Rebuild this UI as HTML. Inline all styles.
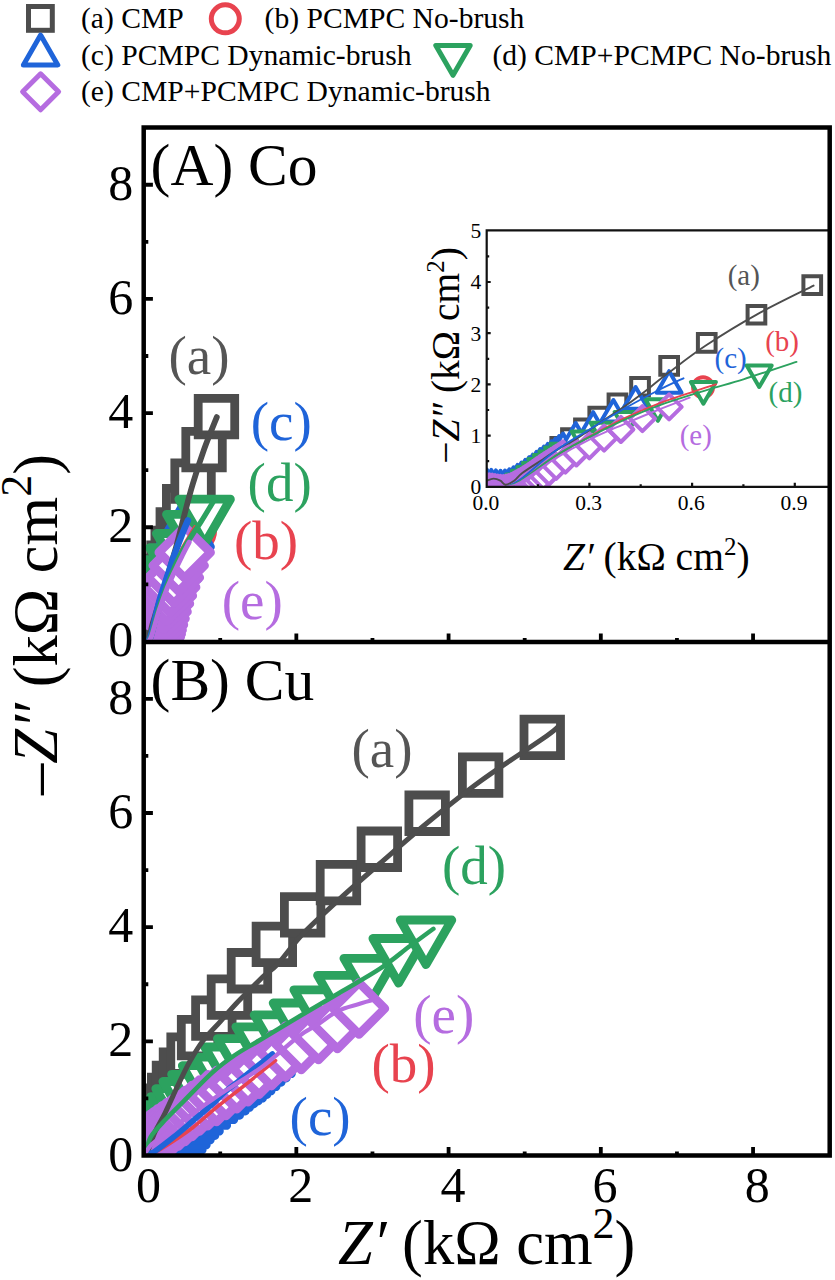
<!DOCTYPE html>
<html><head><meta charset="utf-8"><style>html,body{margin:0;padding:0;background:#fff;}svg{display:block;}</style></head>
<body><svg width="835" height="1280" viewBox="0 0 835 1280">
<rect width="835" height="1280" fill="#fff"/>
<rect x="28.5" y="6.5" width="23.8" height="23.8" fill="#fff" stroke="#4d4d4d" stroke-width="5"/>
<circle cx="225.3" cy="18.8" r="14.0" fill="#fff" stroke="#e8434f" stroke-width="5"/>
<polygon points="40.6,35.1 57.8,64.9 23.4,64.9" fill="#fff" stroke="#1f64d9" stroke-width="5" stroke-linejoin="round"/>
<polygon points="435.8,45.5 470.2,45.5 453.0,75.3" fill="#fff" stroke="#2ca25f" stroke-width="5" stroke-linejoin="round"/>
<polygon points="40.6,73.8 58.6,91.8 40.6,109.8 22.6,91.8" fill="#fff" stroke="#b56ce0" stroke-width="5" stroke-linejoin="round"/>
<text x="81" y="28.2" font-size="29.6" font-family="Liberation Serif, serif">(a) CMP</text>
<text x="264.6" y="28.2" font-size="29.6" font-family="Liberation Serif, serif">(b) PCMPC No-brush</text>
<text x="81" y="65.2" font-size="29.6" font-family="Liberation Serif, serif">(c) PCMPC Dynamic-brush</text>
<text x="492.4" y="65.2" font-size="29.6" font-family="Liberation Serif, serif">(d) CMP+PCMPC No-brush</text>
<text x="81" y="101.2" font-size="29.6" font-family="Liberation Serif, serif">(e) CMP+PCMPC Dynamic-brush</text>
<defs><clipPath id="cA"><rect x="143.7" y="127.5" width="686" height="514.5"/></clipPath><clipPath id="cB"><rect x="143.7" y="642" width="686" height="513.5"/></clipPath><clipPath id="cI"><rect x="486.7" y="230.3" width="343" height="256.5"/></clipPath></defs>
<g clip-path="url(#cA)">
<path d="M125.8,622.8h36.5v36.5h-36.5Z" fill="#fff" stroke="#4d4d4d" stroke-width="8.8" stroke-linejoin="miter"/>
<path d="M127.3,623.5h36.5v36.5h-36.5Z" fill="#fff" stroke="#4d4d4d" stroke-width="8.8" stroke-linejoin="miter"/>
<path d="M128.8,624.2h36.5v36.5h-36.5Z" fill="#fff" stroke="#4d4d4d" stroke-width="8.8" stroke-linejoin="miter"/>
<path d="M130.2,623.6h36.5v36.5h-36.5Z" fill="#fff" stroke="#4d4d4d" stroke-width="8.8" stroke-linejoin="miter"/>
<path d="M131.6,621.1h36.5v36.5h-36.5Z" fill="#fff" stroke="#4d4d4d" stroke-width="8.8" stroke-linejoin="miter"/>
<path d="M132.8,617.3h36.5v36.5h-36.5Z" fill="#fff" stroke="#4d4d4d" stroke-width="8.8" stroke-linejoin="miter"/>
<path d="M134.1,613.3h36.5v36.5h-36.5Z" fill="#fff" stroke="#4d4d4d" stroke-width="8.8" stroke-linejoin="miter"/>
<path d="M135.3,609.1h36.5v36.5h-36.5Z" fill="#fff" stroke="#4d4d4d" stroke-width="8.8" stroke-linejoin="miter"/>
<path d="M136.5,604.8h36.5v36.5h-36.5Z" fill="#fff" stroke="#4d4d4d" stroke-width="8.8" stroke-linejoin="miter"/>
<path d="M137.7,600.4h36.5v36.5h-36.5Z" fill="#fff" stroke="#4d4d4d" stroke-width="8.8" stroke-linejoin="miter"/>
<path d="M138.9,596.2h36.5v36.5h-36.5Z" fill="#fff" stroke="#4d4d4d" stroke-width="8.8" stroke-linejoin="miter"/>
<path d="M140.1,592.1h36.5v36.5h-36.5Z" fill="#fff" stroke="#4d4d4d" stroke-width="8.8" stroke-linejoin="miter"/>
<path d="M142.2,578.6h36.5v36.5h-36.5Z" fill="#fff" stroke="#4d4d4d" stroke-width="8.8" stroke-linejoin="miter"/>
<path d="M144.6,568.9h36.5v36.5h-36.5Z" fill="#fff" stroke="#4d4d4d" stroke-width="8.8" stroke-linejoin="miter"/>
<path d="M147.5,558.1h36.5v36.5h-36.5Z" fill="#fff" stroke="#4d4d4d" stroke-width="8.8" stroke-linejoin="miter"/>
<path d="M150.7,545.0h36.5v36.5h-36.5Z" fill="#fff" stroke="#4d4d4d" stroke-width="8.8" stroke-linejoin="miter"/>
<path d="M154.9,530.1h36.5v36.5h-36.5Z" fill="#fff" stroke="#4d4d4d" stroke-width="8.8" stroke-linejoin="miter"/>
<path d="M160.0,511.6h36.5v36.5h-36.5Z" fill="#fff" stroke="#4d4d4d" stroke-width="8.8" stroke-linejoin="miter"/>
<path d="M166.4,488.4h36.5v36.5h-36.5Z" fill="#fff" stroke="#4d4d4d" stroke-width="8.8" stroke-linejoin="miter"/>
<path d="M174.8,462.8h36.5v36.5h-36.5Z" fill="#fff" stroke="#4d4d4d" stroke-width="8.8" stroke-linejoin="miter"/>
<path d="M185.8,431.4h36.5v36.5h-36.5Z" fill="#fff" stroke="#4d4d4d" stroke-width="8.8" stroke-linejoin="miter"/>
<path d="M198.2,398.3h36.5v36.5h-36.5Z" fill="#fff" stroke="#4d4d4d" stroke-width="8.8" stroke-linejoin="miter"/>
<path d="M123.6,645.6a20.5,20.5 0 1,0 41.0,0a20.5,20.5 0 1,0 -41.0,0Z" fill="#fff" stroke="#e8434f" stroke-width="8.8" stroke-linejoin="round"/>
<path d="M125.4,646.5a20.5,20.5 0 1,0 41.0,0a20.5,20.5 0 1,0 -41.0,0Z" fill="#fff" stroke="#e8434f" stroke-width="8.8" stroke-linejoin="round"/>
<path d="M127.1,647.2a20.5,20.5 0 1,0 41.0,0a20.5,20.5 0 1,0 -41.0,0Z" fill="#fff" stroke="#e8434f" stroke-width="8.8" stroke-linejoin="round"/>
<path d="M128.8,645.1a20.5,20.5 0 1,0 41.0,0a20.5,20.5 0 1,0 -41.0,0Z" fill="#fff" stroke="#e8434f" stroke-width="8.8" stroke-linejoin="round"/>
<path d="M130.4,640.7a20.5,20.5 0 1,0 41.0,0a20.5,20.5 0 1,0 -41.0,0Z" fill="#fff" stroke="#e8434f" stroke-width="8.8" stroke-linejoin="round"/>
<path d="M131.9,636.0a20.5,20.5 0 1,0 41.0,0a20.5,20.5 0 1,0 -41.0,0Z" fill="#fff" stroke="#e8434f" stroke-width="8.8" stroke-linejoin="round"/>
<path d="M133.3,630.9a20.5,20.5 0 1,0 41.0,0a20.5,20.5 0 1,0 -41.0,0Z" fill="#fff" stroke="#e8434f" stroke-width="8.8" stroke-linejoin="round"/>
<path d="M134.8,625.7a20.5,20.5 0 1,0 41.0,0a20.5,20.5 0 1,0 -41.0,0Z" fill="#fff" stroke="#e8434f" stroke-width="8.8" stroke-linejoin="round"/>
<path d="M136.2,620.4a20.5,20.5 0 1,0 41.0,0a20.5,20.5 0 1,0 -41.0,0Z" fill="#fff" stroke="#e8434f" stroke-width="8.8" stroke-linejoin="round"/>
<path d="M137.7,615.5a20.5,20.5 0 1,0 41.0,0a20.5,20.5 0 1,0 -41.0,0Z" fill="#fff" stroke="#e8434f" stroke-width="8.8" stroke-linejoin="round"/>
<path d="M139.1,610.5a20.5,20.5 0 1,0 41.0,0a20.5,20.5 0 1,0 -41.0,0Z" fill="#fff" stroke="#e8434f" stroke-width="8.8" stroke-linejoin="round"/>
<path d="M140.6,605.4a20.5,20.5 0 1,0 41.0,0a20.5,20.5 0 1,0 -41.0,0Z" fill="#fff" stroke="#e8434f" stroke-width="8.8" stroke-linejoin="round"/>
<path d="M171.7,530.5a20.5,20.5 0 1,0 41.0,0a20.5,20.5 0 1,0 -41.0,0Z" fill="#fff" stroke="#e8434f" stroke-width="8.8" stroke-linejoin="round"/>
<path d="M136.5,611.9L162.2,656.5L110.7,656.5Z" fill="#fff" stroke="#1f64d9" stroke-width="8.8" stroke-linejoin="round"/>
<path d="M137.5,612.4L163.3,657.0L111.8,657.0Z" fill="#fff" stroke="#1f64d9" stroke-width="8.8" stroke-linejoin="round"/>
<path d="M138.5,612.9L164.3,657.5L112.8,657.5Z" fill="#fff" stroke="#1f64d9" stroke-width="8.8" stroke-linejoin="round"/>
<path d="M139.6,613.3L165.3,657.9L113.8,657.9Z" fill="#fff" stroke="#1f64d9" stroke-width="8.8" stroke-linejoin="round"/>
<path d="M140.6,613.1L166.3,657.7L114.8,657.7Z" fill="#fff" stroke="#1f64d9" stroke-width="8.8" stroke-linejoin="round"/>
<path d="M141.5,611.7L167.3,656.3L115.8,656.3Z" fill="#fff" stroke="#1f64d9" stroke-width="8.8" stroke-linejoin="round"/>
<path d="M142.5,609.4L168.2,654.0L116.7,654.0Z" fill="#fff" stroke="#1f64d9" stroke-width="8.8" stroke-linejoin="round"/>
<path d="M143.3,606.8L169.1,651.4L117.6,651.4Z" fill="#fff" stroke="#1f64d9" stroke-width="8.8" stroke-linejoin="round"/>
<path d="M144.2,604.1L170.0,648.7L118.5,648.7Z" fill="#fff" stroke="#1f64d9" stroke-width="8.8" stroke-linejoin="round"/>
<path d="M145.1,601.2L170.8,645.8L119.3,645.8Z" fill="#fff" stroke="#1f64d9" stroke-width="8.8" stroke-linejoin="round"/>
<path d="M145.9,598.3L171.7,642.9L120.2,642.9Z" fill="#fff" stroke="#1f64d9" stroke-width="8.8" stroke-linejoin="round"/>
<path d="M146.7,595.4L172.5,640.0L121.0,640.0Z" fill="#fff" stroke="#1f64d9" stroke-width="8.8" stroke-linejoin="round"/>
<path d="M147.6,592.2L173.3,636.8L121.8,636.8Z" fill="#fff" stroke="#1f64d9" stroke-width="8.8" stroke-linejoin="round"/>
<path d="M148.4,589.1L174.1,633.7L122.6,633.7Z" fill="#fff" stroke="#1f64d9" stroke-width="8.8" stroke-linejoin="round"/>
<path d="M149.2,586.2L175.0,630.8L123.5,630.8Z" fill="#fff" stroke="#1f64d9" stroke-width="8.8" stroke-linejoin="round"/>
<path d="M150.1,583.4L175.8,628.0L124.3,628.0Z" fill="#fff" stroke="#1f64d9" stroke-width="8.8" stroke-linejoin="round"/>
<path d="M150.9,580.5L176.7,625.1L125.2,625.1Z" fill="#fff" stroke="#1f64d9" stroke-width="8.8" stroke-linejoin="round"/>
<path d="M151.8,577.6L177.5,622.2L126.0,622.2Z" fill="#fff" stroke="#1f64d9" stroke-width="8.8" stroke-linejoin="round"/>
<path d="M152.6,574.6L178.4,619.2L126.9,619.2Z" fill="#fff" stroke="#1f64d9" stroke-width="8.8" stroke-linejoin="round"/>
<path d="M153.5,571.7L179.2,616.3L127.7,616.3Z" fill="#fff" stroke="#1f64d9" stroke-width="8.8" stroke-linejoin="round"/>
<path d="M159.3,560.0L185.1,604.6L133.6,604.6Z" fill="#fff" stroke="#1f64d9" stroke-width="8.8" stroke-linejoin="round"/>
<path d="M163.2,548.0L189.0,592.6L137.5,592.6Z" fill="#fff" stroke="#1f64d9" stroke-width="8.8" stroke-linejoin="round"/>
<path d="M172.3,534.3L198.0,578.9L146.5,578.9Z" fill="#fff" stroke="#1f64d9" stroke-width="8.8" stroke-linejoin="round"/>
<path d="M177.2,520.0L203.0,564.6L151.5,564.6Z" fill="#fff" stroke="#1f64d9" stroke-width="8.8" stroke-linejoin="round"/>
<path d="M184.7,502.3L210.4,546.9L158.9,546.9Z" fill="#fff" stroke="#1f64d9" stroke-width="8.8" stroke-linejoin="round"/>
<path d="M118.3,623.3L169.8,623.3L144.1,667.9Z" fill="#fff" stroke="#2ca25f" stroke-width="8.8" stroke-linejoin="round"/>
<path d="M119.8,624.0L171.3,624.0L145.6,668.6Z" fill="#fff" stroke="#2ca25f" stroke-width="8.8" stroke-linejoin="round"/>
<path d="M121.3,624.7L172.8,624.7L147.1,669.3Z" fill="#fff" stroke="#2ca25f" stroke-width="8.8" stroke-linejoin="round"/>
<path d="M122.8,624.0L174.3,624.0L148.6,668.6Z" fill="#fff" stroke="#2ca25f" stroke-width="8.8" stroke-linejoin="round"/>
<path d="M124.2,621.3L175.7,621.3L149.9,665.9Z" fill="#fff" stroke="#2ca25f" stroke-width="8.8" stroke-linejoin="round"/>
<path d="M125.5,617.4L177.0,617.4L151.2,662.0Z" fill="#fff" stroke="#2ca25f" stroke-width="8.8" stroke-linejoin="round"/>
<path d="M126.7,613.3L178.2,613.3L152.5,657.9Z" fill="#fff" stroke="#2ca25f" stroke-width="8.8" stroke-linejoin="round"/>
<path d="M128.0,609.0L179.5,609.0L153.7,653.6Z" fill="#fff" stroke="#2ca25f" stroke-width="8.8" stroke-linejoin="round"/>
<path d="M129.2,604.6L180.7,604.6L154.9,649.2Z" fill="#fff" stroke="#2ca25f" stroke-width="8.8" stroke-linejoin="round"/>
<path d="M130.4,600.1L181.9,600.1L156.1,644.7Z" fill="#fff" stroke="#2ca25f" stroke-width="8.8" stroke-linejoin="round"/>
<path d="M131.6,595.9L183.1,595.9L157.4,640.5Z" fill="#fff" stroke="#2ca25f" stroke-width="8.8" stroke-linejoin="round"/>
<path d="M132.9,591.7L184.4,591.7L158.6,636.3Z" fill="#fff" stroke="#2ca25f" stroke-width="8.8" stroke-linejoin="round"/>
<path d="M134.1,587.4L185.6,587.4L159.8,632.0Z" fill="#fff" stroke="#2ca25f" stroke-width="8.8" stroke-linejoin="round"/>
<path d="M135.3,583.1L186.8,583.1L161.1,627.7Z" fill="#fff" stroke="#2ca25f" stroke-width="8.8" stroke-linejoin="round"/>
<path d="M140.0,569.4L191.5,569.4L165.8,614.0Z" fill="#fff" stroke="#2ca25f" stroke-width="8.8" stroke-linejoin="round"/>
<path d="M144.2,559.7L195.7,559.7L170.0,604.3Z" fill="#fff" stroke="#2ca25f" stroke-width="8.8" stroke-linejoin="round"/>
<path d="M149.6,547.7L201.1,547.7L175.3,592.4Z" fill="#fff" stroke="#2ca25f" stroke-width="8.8" stroke-linejoin="round"/>
<path d="M156.4,533.5L207.9,533.5L182.2,578.1Z" fill="#fff" stroke="#2ca25f" stroke-width="8.8" stroke-linejoin="round"/>
<path d="M166.5,514.4L218.0,514.4L192.3,559.0Z" fill="#fff" stroke="#2ca25f" stroke-width="8.8" stroke-linejoin="round"/>
<path d="M178.9,499.2L230.4,499.2L204.7,543.8Z" fill="#fff" stroke="#2ca25f" stroke-width="8.8" stroke-linejoin="round"/>
<path d="M144.1,615.2L169.9,641.0L144.1,666.8L118.3,641.0Z" fill="#fff" stroke="#b56ce0" stroke-width="8.8" stroke-linejoin="round"/>
<path d="M144.7,615.7L170.5,641.5L144.7,667.3L118.9,641.5Z" fill="#fff" stroke="#b56ce0" stroke-width="8.8" stroke-linejoin="round"/>
<path d="M145.3,616.1L171.1,641.9L145.3,667.7L119.5,641.9Z" fill="#fff" stroke="#b56ce0" stroke-width="8.8" stroke-linejoin="round"/>
<path d="M145.9,616.6L171.7,642.4L145.9,668.2L120.1,642.4Z" fill="#fff" stroke="#b56ce0" stroke-width="8.8" stroke-linejoin="round"/>
<path d="M146.6,617.0L172.4,642.8L146.6,668.6L120.8,642.8Z" fill="#fff" stroke="#b56ce0" stroke-width="8.8" stroke-linejoin="round"/>
<path d="M147.2,617.4L173.0,643.2L147.2,669.0L121.4,643.2Z" fill="#fff" stroke="#b56ce0" stroke-width="8.8" stroke-linejoin="round"/>
<path d="M147.8,617.8L173.6,643.6L147.8,669.4L122.0,643.6Z" fill="#fff" stroke="#b56ce0" stroke-width="8.8" stroke-linejoin="round"/>
<path d="M148.4,617.1L174.2,642.9L148.4,668.7L122.6,642.9Z" fill="#fff" stroke="#b56ce0" stroke-width="8.8" stroke-linejoin="round"/>
<path d="M149.0,616.4L174.8,642.2L149.0,668.0L123.2,642.2Z" fill="#fff" stroke="#b56ce0" stroke-width="8.8" stroke-linejoin="round"/>
<path d="M149.6,615.5L175.4,641.3L149.6,667.1L123.8,641.3Z" fill="#fff" stroke="#b56ce0" stroke-width="8.8" stroke-linejoin="round"/>
<path d="M150.1,614.0L175.9,639.8L150.1,665.6L124.3,639.8Z" fill="#fff" stroke="#b56ce0" stroke-width="8.8" stroke-linejoin="round"/>
<path d="M150.7,612.5L176.5,638.3L150.7,664.1L124.9,638.3Z" fill="#fff" stroke="#b56ce0" stroke-width="8.8" stroke-linejoin="round"/>
<path d="M151.2,611.0L177.0,636.8L151.2,662.6L125.4,636.8Z" fill="#fff" stroke="#b56ce0" stroke-width="8.8" stroke-linejoin="round"/>
<path d="M151.7,609.5L177.5,635.3L151.7,661.1L125.9,635.3Z" fill="#fff" stroke="#b56ce0" stroke-width="8.8" stroke-linejoin="round"/>
<path d="M152.3,607.8L178.1,633.6L152.3,659.4L126.5,633.6Z" fill="#fff" stroke="#b56ce0" stroke-width="8.8" stroke-linejoin="round"/>
<path d="M152.8,606.1L178.6,631.9L152.8,657.7L127.0,631.9Z" fill="#fff" stroke="#b56ce0" stroke-width="8.8" stroke-linejoin="round"/>
<path d="M153.3,604.4L179.1,630.2L153.3,656.0L127.5,630.2Z" fill="#fff" stroke="#b56ce0" stroke-width="8.8" stroke-linejoin="round"/>
<path d="M153.8,602.8L179.6,628.6L153.8,654.4L128.0,628.6Z" fill="#fff" stroke="#b56ce0" stroke-width="8.8" stroke-linejoin="round"/>
<path d="M154.3,601.1L180.1,626.9L154.3,652.7L128.5,626.9Z" fill="#fff" stroke="#b56ce0" stroke-width="8.8" stroke-linejoin="round"/>
<path d="M154.9,599.3L180.7,625.1L154.9,650.9L129.1,625.1Z" fill="#fff" stroke="#b56ce0" stroke-width="8.8" stroke-linejoin="round"/>
<path d="M155.4,597.4L181.2,623.2L155.4,649.0L129.6,623.2Z" fill="#fff" stroke="#b56ce0" stroke-width="8.8" stroke-linejoin="round"/>
<path d="M155.9,595.6L181.7,621.4L155.9,647.2L130.1,621.4Z" fill="#fff" stroke="#b56ce0" stroke-width="8.8" stroke-linejoin="round"/>
<path d="M156.4,593.9L182.2,619.7L156.4,645.5L130.6,619.7Z" fill="#fff" stroke="#b56ce0" stroke-width="8.8" stroke-linejoin="round"/>
<path d="M156.9,592.2L182.7,618.0L156.9,643.8L131.1,618.0Z" fill="#fff" stroke="#b56ce0" stroke-width="8.8" stroke-linejoin="round"/>
<path d="M157.4,590.6L183.2,616.4L157.4,642.2L131.6,616.4Z" fill="#fff" stroke="#b56ce0" stroke-width="8.8" stroke-linejoin="round"/>
<path d="M157.9,589.0L183.7,614.8L157.9,640.6L132.1,614.8Z" fill="#fff" stroke="#b56ce0" stroke-width="8.8" stroke-linejoin="round"/>
<path d="M158.5,587.3L184.3,613.1L158.5,638.9L132.7,613.1Z" fill="#fff" stroke="#b56ce0" stroke-width="8.8" stroke-linejoin="round"/>
<path d="M159.0,585.6L184.8,611.4L159.0,637.2L133.2,611.4Z" fill="#fff" stroke="#b56ce0" stroke-width="8.8" stroke-linejoin="round"/>
<path d="M159.5,583.9L185.3,609.7L159.5,635.5L133.7,609.7Z" fill="#fff" stroke="#b56ce0" stroke-width="8.8" stroke-linejoin="round"/>
<path d="M160.0,582.3L185.8,608.1L160.0,633.9L134.2,608.1Z" fill="#fff" stroke="#b56ce0" stroke-width="8.8" stroke-linejoin="round"/>
<path d="M160.6,580.6L186.4,606.4L160.6,632.2L134.8,606.4Z" fill="#fff" stroke="#b56ce0" stroke-width="8.8" stroke-linejoin="round"/>
<path d="M161.1,578.9L186.9,604.7L161.1,630.5L135.3,604.7Z" fill="#fff" stroke="#b56ce0" stroke-width="8.8" stroke-linejoin="round"/>
<path d="M154.9,611.0L180.7,636.8L154.9,662.6L129.1,636.8Z" fill="#fff" stroke="#b56ce0" stroke-width="8.8" stroke-linejoin="round"/>
<path d="M155.8,608.2L181.6,634.0L155.8,659.8L130.0,634.0Z" fill="#fff" stroke="#b56ce0" stroke-width="8.8" stroke-linejoin="round"/>
<path d="M156.7,604.2L182.5,630.0L156.7,655.8L130.9,630.0Z" fill="#fff" stroke="#b56ce0" stroke-width="8.8" stroke-linejoin="round"/>
<path d="M158.0,599.0L183.8,624.8L158.0,650.6L132.2,624.8Z" fill="#fff" stroke="#b56ce0" stroke-width="8.8" stroke-linejoin="round"/>
<path d="M159.6,592.8L185.4,618.6L159.6,644.4L133.8,618.6Z" fill="#fff" stroke="#b56ce0" stroke-width="8.8" stroke-linejoin="round"/>
<path d="M161.6,585.9L187.4,611.7L161.6,637.5L135.8,611.7Z" fill="#fff" stroke="#b56ce0" stroke-width="8.8" stroke-linejoin="round"/>
<path d="M164.0,577.9L189.8,603.7L164.0,629.5L138.2,603.7Z" fill="#fff" stroke="#b56ce0" stroke-width="8.8" stroke-linejoin="round"/>
<path d="M166.9,569.9L192.7,595.7L166.9,621.5L141.1,595.7Z" fill="#fff" stroke="#b56ce0" stroke-width="8.8" stroke-linejoin="round"/>
<path d="M170.2,561.4L196.0,587.2L170.2,613.0L144.4,587.2Z" fill="#fff" stroke="#b56ce0" stroke-width="8.8" stroke-linejoin="round"/>
<path d="M173.9,551.7L199.7,577.5L173.9,603.3L148.1,577.5Z" fill="#fff" stroke="#b56ce0" stroke-width="8.8" stroke-linejoin="round"/>
<path d="M178.7,539.7L204.5,565.5L178.7,591.3L152.9,565.5Z" fill="#fff" stroke="#b56ce0" stroke-width="8.8" stroke-linejoin="round"/>
<path d="M184.7,526.6L210.5,552.4L184.7,578.2L158.9,552.4Z" fill="#fff" stroke="#b56ce0" stroke-width="8.8" stroke-linejoin="round"/>
<path d="M144.1,634.6 C144.4,634.2 145.1,632.3 145.6,632.3 C146.1,632.3 146.7,633.4 147.1,634.6 C147.6,635.7 147.8,639.1 148.3,639.1 C148.8,639.1 149.6,636.7 150.2,634.6 C150.8,632.4 151.0,629.8 152.0,626.0 C153.0,622.2 154.9,616.4 156.3,611.7 C157.7,607.1 159.2,601.9 160.5,598.0 C161.7,594.1 162.6,592.5 163.9,588.3 C165.2,584.1 166.9,578.0 168.5,572.9 C170.0,567.8 171.8,561.7 173.0,557.5 C174.3,553.3 174.9,551.4 175.9,547.8 C176.9,544.2 177.7,541.3 179.1,535.8 C180.5,530.3 182.2,523.3 184.4,514.7 C186.7,506.0 189.5,494.8 192.8,483.9 C196.1,472.9 200.2,460.2 204.2,449.0 C208.2,437.9 214.7,422.4 216.8,417.1" fill="none" stroke="#4d4d4d" stroke-width="5.8" stroke-linecap="round" stroke-linejoin="round"/>
<path d="M148.7,641.4 C149.2,640.3 149.9,640.3 151.7,634.6 C153.5,628.8 156.8,615.3 159.3,607.2 C161.9,599.0 164.4,592.4 166.9,585.5 C169.5,578.5 172.0,571.6 174.5,565.5 C177.1,559.4 179.6,553.9 182.2,548.9 C184.7,544.0 187.6,539.4 189.8,535.8 C191.9,532.2 194.2,528.7 195.1,527.2" fill="none" stroke="#e8434f" stroke-width="4.06" stroke-linecap="round" stroke-linejoin="round"/>
<path d="M148.7,641.4 C149.2,640.0 149.9,639.5 151.7,632.8 C153.5,626.2 156.8,610.7 159.3,601.4 C161.9,592.2 164.4,585.3 166.9,577.5 C169.5,569.7 172.0,561.9 174.5,554.6 C177.1,547.4 179.9,539.8 182.2,534.1 C184.4,528.4 186.9,522.7 187.9,520.4" fill="none" stroke="#1f64d9" stroke-width="6.496" stroke-linecap="round" stroke-linejoin="round"/>
<path d="M148.7,641.4 C149.2,640.3 149.9,640.3 151.7,634.6 C153.5,628.8 156.8,615.2 159.3,607.2 C161.9,599.1 164.4,592.7 166.9,586.0 C169.5,579.4 172.0,573.0 174.5,567.2 C177.1,561.4 179.2,556.6 182.2,551.2 C185.1,545.8 189.1,539.6 192.3,534.7 C195.5,529.7 197.7,527.0 201.2,521.5 C204.6,516.1 211.0,505.4 213.0,502.1" fill="none" stroke="#2ca25f" stroke-width="5.22" stroke-linecap="round" stroke-linejoin="round"/>
<path d="M148.7,641.4 C149.2,640.4 149.9,640.9 151.7,635.7 C153.5,630.5 156.8,617.8 159.3,610.0 C161.9,602.2 164.4,595.3 166.9,588.9 C169.5,582.5 172.0,577.3 174.5,571.8 C177.1,566.2 179.7,560.7 182.2,555.8 C184.6,550.8 188.1,544.4 189.2,542.1" fill="none" stroke="#b56ce0" stroke-width="4.93" stroke-linecap="round" stroke-linejoin="round"/>
</g>
<g clip-path="url(#cB)">
<path d="M134.8,1122.8h36.5v36.5h-36.5Z" fill="#fff" stroke="#4d4d4d" stroke-width="8.8" stroke-linejoin="miter"/>
<path d="M136.2,1117.8h36.5v36.5h-36.5Z" fill="#fff" stroke="#4d4d4d" stroke-width="8.8" stroke-linejoin="miter"/>
<path d="M138.2,1111.8h36.5v36.5h-36.5Z" fill="#fff" stroke="#4d4d4d" stroke-width="8.8" stroke-linejoin="miter"/>
<path d="M140.8,1104.8h36.5v36.5h-36.5Z" fill="#fff" stroke="#4d4d4d" stroke-width="8.8" stroke-linejoin="miter"/>
<path d="M143.8,1096.8h36.5v36.5h-36.5Z" fill="#fff" stroke="#4d4d4d" stroke-width="8.8" stroke-linejoin="miter"/>
<path d="M147.2,1087.8h36.5v36.5h-36.5Z" fill="#fff" stroke="#4d4d4d" stroke-width="8.8" stroke-linejoin="miter"/>
<path d="M151.4,1077.2h36.5v36.5h-36.5Z" fill="#fff" stroke="#4d4d4d" stroke-width="8.8" stroke-linejoin="miter"/>
<path d="M156.2,1065.2h36.5v36.5h-36.5Z" fill="#fff" stroke="#4d4d4d" stroke-width="8.8" stroke-linejoin="miter"/>
<path d="M163.2,1051.8h36.5v36.5h-36.5Z" fill="#fff" stroke="#4d4d4d" stroke-width="8.8" stroke-linejoin="miter"/>
<path d="M170.8,1036.8h36.5v36.5h-36.5Z" fill="#fff" stroke="#4d4d4d" stroke-width="8.8" stroke-linejoin="miter"/>
<path d="M181.3,1019.3h36.5v36.5h-36.5Z" fill="#fff" stroke="#4d4d4d" stroke-width="8.8" stroke-linejoin="miter"/>
<path d="M195.6,999.8h36.5v36.5h-36.5Z" fill="#fff" stroke="#4d4d4d" stroke-width="8.8" stroke-linejoin="miter"/>
<path d="M211.2,978.8h36.5v36.5h-36.5Z" fill="#fff" stroke="#4d4d4d" stroke-width="8.8" stroke-linejoin="miter"/>
<path d="M231.2,952.5h36.5v36.5h-36.5Z" fill="#fff" stroke="#4d4d4d" stroke-width="8.8" stroke-linejoin="miter"/>
<path d="M256.1,926.2h36.5v36.5h-36.5Z" fill="#fff" stroke="#4d4d4d" stroke-width="8.8" stroke-linejoin="miter"/>
<path d="M284.4,896.6h36.5v36.5h-36.5Z" fill="#fff" stroke="#4d4d4d" stroke-width="8.8" stroke-linejoin="miter"/>
<path d="M320.2,864.4h36.5v36.5h-36.5Z" fill="#fff" stroke="#4d4d4d" stroke-width="8.8" stroke-linejoin="miter"/>
<path d="M361.1,831.0h36.5v36.5h-36.5Z" fill="#fff" stroke="#4d4d4d" stroke-width="8.8" stroke-linejoin="miter"/>
<path d="M408.9,795.0h36.5v36.5h-36.5Z" fill="#fff" stroke="#4d4d4d" stroke-width="8.8" stroke-linejoin="miter"/>
<path d="M462.4,756.9h36.5v36.5h-36.5Z" fill="#fff" stroke="#4d4d4d" stroke-width="8.8" stroke-linejoin="miter"/>
<path d="M524.0,719.1h36.5v36.5h-36.5Z" fill="#fff" stroke="#4d4d4d" stroke-width="8.8" stroke-linejoin="miter"/>
<path d="M127.5,1152.0a20.5,20.5 0 1,0 41.0,0a20.5,20.5 0 1,0 -41.0,0Z" fill="#fff" stroke="#e8434f" stroke-width="8.8" stroke-linejoin="round"/>
<path d="M131.5,1149.0a20.5,20.5 0 1,0 41.0,0a20.5,20.5 0 1,0 -41.0,0Z" fill="#fff" stroke="#e8434f" stroke-width="8.8" stroke-linejoin="round"/>
<path d="M137.5,1145.0a20.5,20.5 0 1,0 41.0,0a20.5,20.5 0 1,0 -41.0,0Z" fill="#fff" stroke="#e8434f" stroke-width="8.8" stroke-linejoin="round"/>
<path d="M144.5,1140.0a20.5,20.5 0 1,0 41.0,0a20.5,20.5 0 1,0 -41.0,0Z" fill="#fff" stroke="#e8434f" stroke-width="8.8" stroke-linejoin="round"/>
<path d="M149.6,1128.3L175.3,1172.9L123.8,1172.9Z" fill="#fff" stroke="#1f64d9" stroke-width="8.8" stroke-linejoin="round"/>
<path d="M152.1,1126.3L177.8,1170.9L126.3,1170.9Z" fill="#fff" stroke="#1f64d9" stroke-width="8.8" stroke-linejoin="round"/>
<path d="M154.6,1124.3L180.3,1168.9L128.8,1168.9Z" fill="#fff" stroke="#1f64d9" stroke-width="8.8" stroke-linejoin="round"/>
<path d="M157.6,1121.8L183.3,1166.4L131.8,1166.4Z" fill="#fff" stroke="#1f64d9" stroke-width="8.8" stroke-linejoin="round"/>
<path d="M160.6,1119.3L186.3,1163.9L134.8,1163.9Z" fill="#fff" stroke="#1f64d9" stroke-width="8.8" stroke-linejoin="round"/>
<path d="M164.1,1116.3L189.8,1160.9L138.3,1160.9Z" fill="#fff" stroke="#1f64d9" stroke-width="8.8" stroke-linejoin="round"/>
<path d="M167.6,1113.3L193.3,1157.9L141.8,1157.9Z" fill="#fff" stroke="#1f64d9" stroke-width="8.8" stroke-linejoin="round"/>
<path d="M172.0,1109.3L197.8,1153.9L146.3,1153.9Z" fill="#fff" stroke="#1f64d9" stroke-width="8.8" stroke-linejoin="round"/>
<path d="M176.5,1105.3L202.2,1149.9L150.8,1149.9Z" fill="#fff" stroke="#1f64d9" stroke-width="8.8" stroke-linejoin="round"/>
<path d="M180.6,1100.3L206.3,1144.9L154.8,1144.9Z" fill="#fff" stroke="#1f64d9" stroke-width="8.8" stroke-linejoin="round"/>
<path d="M184.6,1095.3L210.3,1139.9L158.8,1139.9Z" fill="#fff" stroke="#1f64d9" stroke-width="8.8" stroke-linejoin="round"/>
<path d="M189.2,1090.9L214.9,1135.5L163.4,1135.5Z" fill="#fff" stroke="#1f64d9" stroke-width="8.8" stroke-linejoin="round"/>
<path d="M193.7,1086.5L219.4,1131.1L167.9,1131.1Z" fill="#fff" stroke="#1f64d9" stroke-width="8.8" stroke-linejoin="round"/>
<path d="M200.9,1080.7L226.7,1125.4L175.2,1125.4Z" fill="#fff" stroke="#1f64d9" stroke-width="8.8" stroke-linejoin="round"/>
<path d="M208.1,1075.0L233.8,1119.6L182.3,1119.6Z" fill="#fff" stroke="#1f64d9" stroke-width="8.8" stroke-linejoin="round"/>
<path d="M213.8,1070.7L239.6,1115.3L188.1,1115.3Z" fill="#fff" stroke="#1f64d9" stroke-width="8.8" stroke-linejoin="round"/>
<path d="M219.6,1066.4L245.3,1111.0L193.8,1111.0Z" fill="#fff" stroke="#1f64d9" stroke-width="8.8" stroke-linejoin="round"/>
<path d="M223.9,1062.8L249.6,1107.4L198.1,1107.4Z" fill="#fff" stroke="#1f64d9" stroke-width="8.8" stroke-linejoin="round"/>
<path d="M228.2,1059.2L253.9,1103.8L202.4,1103.8Z" fill="#fff" stroke="#1f64d9" stroke-width="8.8" stroke-linejoin="round"/>
<path d="M232.5,1056.3L258.2,1101.0L206.8,1101.0Z" fill="#fff" stroke="#1f64d9" stroke-width="8.8" stroke-linejoin="round"/>
<path d="M236.8,1053.5L262.6,1098.1L211.1,1098.1Z" fill="#fff" stroke="#1f64d9" stroke-width="8.8" stroke-linejoin="round"/>
<path d="M241.1,1049.9L266.9,1094.5L215.4,1094.5Z" fill="#fff" stroke="#1f64d9" stroke-width="8.8" stroke-linejoin="round"/>
<path d="M245.4,1046.3L271.1,1090.9L219.7,1090.9Z" fill="#fff" stroke="#1f64d9" stroke-width="8.8" stroke-linejoin="round"/>
<path d="M250.4,1042.0L276.1,1086.6L224.7,1086.6Z" fill="#fff" stroke="#1f64d9" stroke-width="8.8" stroke-linejoin="round"/>
<path d="M255.4,1037.7L281.1,1082.3L229.7,1082.3Z" fill="#fff" stroke="#1f64d9" stroke-width="8.8" stroke-linejoin="round"/>
<path d="M260.5,1033.3L286.2,1078.0L234.8,1078.0Z" fill="#fff" stroke="#1f64d9" stroke-width="8.8" stroke-linejoin="round"/>
<path d="M265.6,1029.0L291.4,1073.6L239.9,1073.6Z" fill="#fff" stroke="#1f64d9" stroke-width="8.8" stroke-linejoin="round"/>
<path d="M131.2,1124.7L182.8,1124.7L157.0,1169.3Z" fill="#fff" stroke="#2ca25f" stroke-width="8.8" stroke-linejoin="round"/>
<path d="M133.2,1121.2L184.8,1121.2L159.0,1165.8Z" fill="#fff" stroke="#2ca25f" stroke-width="8.8" stroke-linejoin="round"/>
<path d="M135.8,1117.7L187.2,1117.7L161.5,1162.3Z" fill="#fff" stroke="#2ca25f" stroke-width="8.8" stroke-linejoin="round"/>
<path d="M138.8,1113.7L190.2,1113.7L164.5,1158.3Z" fill="#fff" stroke="#2ca25f" stroke-width="8.8" stroke-linejoin="round"/>
<path d="M142.2,1108.7L193.8,1108.7L168.0,1153.3Z" fill="#fff" stroke="#2ca25f" stroke-width="8.8" stroke-linejoin="round"/>
<path d="M146.2,1102.7L197.8,1102.7L172.0,1147.3Z" fill="#fff" stroke="#2ca25f" stroke-width="8.8" stroke-linejoin="round"/>
<path d="M150.8,1096.6L202.2,1096.6L176.5,1141.2Z" fill="#fff" stroke="#2ca25f" stroke-width="8.8" stroke-linejoin="round"/>
<path d="M155.8,1088.7L207.2,1088.7L181.5,1133.3Z" fill="#fff" stroke="#2ca25f" stroke-width="8.8" stroke-linejoin="round"/>
<path d="M162.9,1081.5L214.4,1081.5L188.7,1126.1Z" fill="#fff" stroke="#2ca25f" stroke-width="8.8" stroke-linejoin="round"/>
<path d="M171.6,1074.4L223.1,1074.4L197.3,1119.0Z" fill="#fff" stroke="#2ca25f" stroke-width="8.8" stroke-linejoin="round"/>
<path d="M182.3,1065.7L233.8,1065.7L208.1,1110.3Z" fill="#fff" stroke="#2ca25f" stroke-width="8.8" stroke-linejoin="round"/>
<path d="M194.6,1057.1L246.1,1057.1L220.3,1101.7Z" fill="#fff" stroke="#2ca25f" stroke-width="8.8" stroke-linejoin="round"/>
<path d="M204.7,1047.0L256.1,1047.0L230.4,1091.6Z" fill="#fff" stroke="#2ca25f" stroke-width="8.8" stroke-linejoin="round"/>
<path d="M217.4,1038.6L268.9,1038.6L243.2,1083.2Z" fill="#fff" stroke="#2ca25f" stroke-width="8.8" stroke-linejoin="round"/>
<path d="M235.9,1026.8L287.4,1026.8L261.6,1071.4Z" fill="#fff" stroke="#2ca25f" stroke-width="8.8" stroke-linejoin="round"/>
<path d="M254.2,1014.9L305.8,1014.9L280.0,1059.5Z" fill="#fff" stroke="#2ca25f" stroke-width="8.8" stroke-linejoin="round"/>
<path d="M273.2,1003.0L324.8,1003.0L299.0,1047.6Z" fill="#fff" stroke="#2ca25f" stroke-width="8.8" stroke-linejoin="round"/>
<path d="M293.9,989.9L345.4,989.9L319.6,1034.5Z" fill="#fff" stroke="#2ca25f" stroke-width="8.8" stroke-linejoin="round"/>
<path d="M317.6,975.4L369.1,975.4L343.3,1020.0Z" fill="#fff" stroke="#2ca25f" stroke-width="8.8" stroke-linejoin="round"/>
<path d="M343.9,958.3L395.4,958.3L369.7,1002.9Z" fill="#fff" stroke="#2ca25f" stroke-width="8.8" stroke-linejoin="round"/>
<path d="M372.9,938.5L424.4,938.5L398.6,983.1Z" fill="#fff" stroke="#2ca25f" stroke-width="8.8" stroke-linejoin="round"/>
<path d="M400.2,920.0L451.8,920.0L426.0,964.6Z" fill="#fff" stroke="#2ca25f" stroke-width="8.8" stroke-linejoin="round"/>
<path d="M147.0,1116.7L172.8,1142.5L147.0,1168.3L121.2,1142.5Z" fill="#fff" stroke="#b56ce0" stroke-width="8.8" stroke-linejoin="round"/>
<path d="M150.0,1114.2L175.8,1140.0L150.0,1165.8L124.2,1140.0Z" fill="#fff" stroke="#b56ce0" stroke-width="8.8" stroke-linejoin="round"/>
<path d="M153.5,1111.7L179.3,1137.5L153.5,1163.3L127.7,1137.5Z" fill="#fff" stroke="#b56ce0" stroke-width="8.8" stroke-linejoin="round"/>
<path d="M157.5,1108.7L183.3,1134.5L157.5,1160.3L131.7,1134.5Z" fill="#fff" stroke="#b56ce0" stroke-width="8.8" stroke-linejoin="round"/>
<path d="M162.0,1105.7L187.8,1131.5L162.0,1157.3L136.2,1131.5Z" fill="#fff" stroke="#b56ce0" stroke-width="8.8" stroke-linejoin="round"/>
<path d="M167.0,1102.2L192.8,1128.0L167.0,1153.8L141.2,1128.0Z" fill="#fff" stroke="#b56ce0" stroke-width="8.8" stroke-linejoin="round"/>
<path d="M172.5,1098.7L198.3,1124.5L172.5,1150.3L146.7,1124.5Z" fill="#fff" stroke="#b56ce0" stroke-width="8.8" stroke-linejoin="round"/>
<path d="M178.5,1094.7L204.3,1120.5L178.5,1146.3L152.7,1120.5Z" fill="#fff" stroke="#b56ce0" stroke-width="8.8" stroke-linejoin="round"/>
<path d="M185.0,1090.2L210.8,1116.0L185.0,1141.8L159.2,1116.0Z" fill="#fff" stroke="#b56ce0" stroke-width="8.8" stroke-linejoin="round"/>
<path d="M192.0,1085.2L217.8,1111.0L192.0,1136.8L166.2,1111.0Z" fill="#fff" stroke="#b56ce0" stroke-width="8.8" stroke-linejoin="round"/>
<path d="M199.5,1079.7L225.3,1105.5L199.5,1131.3L173.7,1105.5Z" fill="#fff" stroke="#b56ce0" stroke-width="8.8" stroke-linejoin="round"/>
<path d="M207.7,1074.5L233.5,1100.3L207.7,1126.1L181.9,1100.3Z" fill="#fff" stroke="#b56ce0" stroke-width="8.8" stroke-linejoin="round"/>
<path d="M216.6,1070.2L242.4,1096.0L216.6,1121.8L190.8,1096.0Z" fill="#fff" stroke="#b56ce0" stroke-width="8.8" stroke-linejoin="round"/>
<path d="M226.0,1064.3L251.8,1090.1L226.0,1115.9L200.2,1090.1Z" fill="#fff" stroke="#b56ce0" stroke-width="8.8" stroke-linejoin="round"/>
<path d="M236.8,1057.6L262.6,1083.4L236.8,1109.2L211.0,1083.4Z" fill="#fff" stroke="#b56ce0" stroke-width="8.8" stroke-linejoin="round"/>
<path d="M248.0,1050.6L273.8,1076.4L248.0,1102.2L222.2,1076.4Z" fill="#fff" stroke="#b56ce0" stroke-width="8.8" stroke-linejoin="round"/>
<path d="M259.1,1043.1L284.9,1068.9L259.1,1094.7L233.3,1068.9Z" fill="#fff" stroke="#b56ce0" stroke-width="8.8" stroke-linejoin="round"/>
<path d="M271.6,1034.4L297.4,1060.2L271.6,1086.0L245.8,1060.2Z" fill="#fff" stroke="#b56ce0" stroke-width="8.8" stroke-linejoin="round"/>
<path d="M285.5,1025.9L311.3,1051.7L285.5,1077.5L259.7,1051.7Z" fill="#fff" stroke="#b56ce0" stroke-width="8.8" stroke-linejoin="round"/>
<path d="M301.3,1018.2L327.1,1044.0L301.3,1069.8L275.5,1044.0Z" fill="#fff" stroke="#b56ce0" stroke-width="8.8" stroke-linejoin="round"/>
<path d="M318.5,1008.2L344.3,1034.0L318.5,1059.8L292.7,1034.0Z" fill="#fff" stroke="#b56ce0" stroke-width="8.8" stroke-linejoin="round"/>
<path d="M337.4,997.2L363.2,1023.0L337.4,1048.8L311.6,1023.0Z" fill="#fff" stroke="#b56ce0" stroke-width="8.8" stroke-linejoin="round"/>
<path d="M359.0,982.7L384.8,1008.5L359.0,1034.3L333.2,1008.5Z" fill="#fff" stroke="#b56ce0" stroke-width="8.8" stroke-linejoin="round"/>
<path d="M146.0,1153.0 C146.3,1152.8 146.2,1155.1 147.7,1151.6 C149.2,1148.1 152.1,1138.4 155.0,1132.0 C157.9,1125.6 161.0,1121.2 164.9,1113.3 C168.8,1105.4 174.2,1093.1 178.3,1084.5 C182.5,1075.9 185.7,1068.8 189.8,1061.5 C194.0,1054.2 198.1,1047.2 203.2,1040.5 C208.3,1033.8 215.1,1027.4 220.5,1021.3 C225.9,1015.2 230.7,1009.4 235.8,1004.0 C240.9,998.6 246.2,993.5 251.0,988.7 C255.8,983.9 260.0,979.4 264.5,975.3 C269.0,971.1 271.6,970.7 278.0,963.8 C284.4,956.9 292.6,944.6 302.7,934.0 C312.8,923.4 325.7,911.7 338.5,900.0 C351.3,888.3 364.5,876.8 379.3,864.0 C394.1,851.2 410.2,836.8 427.1,823.0 C444.0,809.2 461.4,795.0 480.6,781.0 C499.8,767.0 529.4,748.0 542.3,739.0 C555.2,730.0 555.5,728.8 558.2,726.8" fill="none" stroke="#4d4d4d" stroke-width="5.0" stroke-linecap="round" stroke-linejoin="round"/>
<path d="M152.0,1153.0 C153.1,1152.6 154.8,1152.5 158.4,1150.5 C162.0,1148.5 167.9,1144.8 173.7,1141.0 C179.4,1137.2 186.5,1132.5 192.9,1127.5 C199.3,1122.5 206.7,1115.7 212.0,1111.2 C217.3,1106.7 220.3,1104.4 225.0,1100.7 C229.7,1097.0 234.8,1093.1 240.0,1089.0 C245.2,1084.9 250.3,1080.8 256.2,1076.0 C262.1,1071.2 272.4,1063.1 275.6,1060.5" fill="none" stroke="#e8434f" stroke-width="3.5" stroke-linecap="round" stroke-linejoin="round"/>
<path d="M150.0,1153.0 C150.8,1152.8 150.7,1154.2 154.6,1151.5 C158.5,1148.8 167.3,1142.1 173.7,1137.0 C180.1,1131.9 186.5,1126.2 192.9,1120.8 C199.3,1115.4 206.7,1109.3 212.0,1104.5 C217.3,1099.7 220.3,1096.1 225.0,1092.0 C229.7,1087.9 234.8,1084.2 240.0,1080.0 C245.2,1075.8 250.8,1071.3 256.2,1067.0 C261.6,1062.7 269.7,1056.2 272.4,1054.0" fill="none" stroke="#1f64d9" stroke-width="5.6000000000000005" stroke-linecap="round" stroke-linejoin="round"/>
<path d="M146.0,1153.0 C146.8,1150.3 147.4,1142.7 150.7,1137.0 C154.0,1131.3 160.6,1124.9 166.0,1119.0 C171.4,1113.1 175.6,1109.3 183.3,1101.6 C191.0,1093.9 203.4,1080.7 212.0,1072.9 C220.6,1065.1 227.0,1060.5 235.0,1055.0 C243.0,1049.5 249.2,1046.5 260.0,1040.0 C270.8,1033.5 286.7,1023.9 300.0,1016.0 C313.3,1008.1 326.7,1000.4 340.0,992.5 C353.3,984.6 368.3,976.5 380.0,968.7 C391.7,961.0 401.1,952.6 410.0,946.0 C418.9,939.4 429.5,931.7 433.4,928.8" fill="none" stroke="#2ca25f" stroke-width="4.5" stroke-linecap="round" stroke-linejoin="round"/>
<path d="M146.0,1152.0 C147.0,1150.7 149.0,1146.8 152.0,1144.0 C155.0,1141.2 159.1,1138.8 164.0,1135.0 C168.9,1131.2 175.9,1125.6 181.5,1121.5 C187.1,1117.4 191.6,1114.3 197.3,1110.2 C203.1,1106.1 209.2,1101.5 216.0,1096.9 C222.8,1092.3 230.3,1087.7 238.2,1082.5 C246.1,1077.3 253.3,1073.6 263.4,1065.9 C273.5,1058.2 289.8,1043.1 298.8,1036.2 C307.8,1029.3 311.0,1028.9 317.5,1024.7 C324.0,1020.5 330.7,1014.5 337.6,1011.0 C344.5,1007.5 352.6,1006.0 359.0,1004.0 C365.4,1002.0 373.2,999.8 376.0,999.0" fill="none" stroke="#b56ce0" stroke-width="4.25" stroke-linecap="round" stroke-linejoin="round"/>
</g>
<rect x="486.7" y="230.3" width="343" height="256.5" fill="#fff"/>
<g clip-path="url(#cI)">
<path d="M477.8,477.6h17.7v17.7h-17.7Z" fill="#fff" stroke="#4d4d4d" stroke-width="4.0" stroke-linejoin="miter"/>
<path d="M484.4,478.3h17.7v17.7h-17.7Z" fill="#fff" stroke="#4d4d4d" stroke-width="4.0" stroke-linejoin="miter"/>
<path d="M491.0,478.9h17.7v17.7h-17.7Z" fill="#fff" stroke="#4d4d4d" stroke-width="4.0" stroke-linejoin="miter"/>
<path d="M497.5,478.3h17.7v17.7h-17.7Z" fill="#fff" stroke="#4d4d4d" stroke-width="4.0" stroke-linejoin="miter"/>
<path d="M503.6,476.1h17.7v17.7h-17.7Z" fill="#fff" stroke="#4d4d4d" stroke-width="4.0" stroke-linejoin="miter"/>
<path d="M509.3,472.7h17.7v17.7h-17.7Z" fill="#fff" stroke="#4d4d4d" stroke-width="4.0" stroke-linejoin="miter"/>
<path d="M514.9,469.1h17.7v17.7h-17.7Z" fill="#fff" stroke="#4d4d4d" stroke-width="4.0" stroke-linejoin="miter"/>
<path d="M520.3,465.4h17.7v17.7h-17.7Z" fill="#fff" stroke="#4d4d4d" stroke-width="4.0" stroke-linejoin="miter"/>
<path d="M525.7,461.5h17.7v17.7h-17.7Z" fill="#fff" stroke="#4d4d4d" stroke-width="4.0" stroke-linejoin="miter"/>
<path d="M530.9,457.5h17.7v17.7h-17.7Z" fill="#fff" stroke="#4d4d4d" stroke-width="4.0" stroke-linejoin="miter"/>
<path d="M536.4,453.8h17.7v17.7h-17.7Z" fill="#fff" stroke="#4d4d4d" stroke-width="4.0" stroke-linejoin="miter"/>
<path d="M541.9,450.1h17.7v17.7h-17.7Z" fill="#fff" stroke="#4d4d4d" stroke-width="4.0" stroke-linejoin="miter"/>
<path d="M551.4,438.0h17.7v17.7h-17.7Z" fill="#fff" stroke="#4d4d4d" stroke-width="4.0" stroke-linejoin="miter"/>
<path d="M562.1,429.3h17.7v17.7h-17.7Z" fill="#fff" stroke="#4d4d4d" stroke-width="4.0" stroke-linejoin="miter"/>
<path d="M575.1,419.6h17.7v17.7h-17.7Z" fill="#fff" stroke="#4d4d4d" stroke-width="4.0" stroke-linejoin="miter"/>
<path d="M589.4,407.8h17.7v17.7h-17.7Z" fill="#fff" stroke="#4d4d4d" stroke-width="4.0" stroke-linejoin="miter"/>
<path d="M608.6,394.5h17.7v17.7h-17.7Z" fill="#fff" stroke="#4d4d4d" stroke-width="4.0" stroke-linejoin="miter"/>
<path d="M631.2,377.9h17.7v17.7h-17.7Z" fill="#fff" stroke="#4d4d4d" stroke-width="4.0" stroke-linejoin="miter"/>
<path d="M660.3,357.1h17.7v17.7h-17.7Z" fill="#fff" stroke="#4d4d4d" stroke-width="4.0" stroke-linejoin="miter"/>
<path d="M697.9,334.1h17.7v17.7h-17.7Z" fill="#fff" stroke="#4d4d4d" stroke-width="4.0" stroke-linejoin="miter"/>
<path d="M747.6,305.9h17.7v17.7h-17.7Z" fill="#fff" stroke="#4d4d4d" stroke-width="4.0" stroke-linejoin="miter"/>
<path d="M803.4,276.2h17.7v17.7h-17.7Z" fill="#fff" stroke="#4d4d4d" stroke-width="4.0" stroke-linejoin="miter"/>
<path d="M476.8,490.5a9.9,9.9 0 1,0 19.9,0a9.9,9.9 0 1,0 -19.9,0Z" fill="#fff" stroke="#e8434f" stroke-width="4.0" stroke-linejoin="round"/>
<path d="M484.7,491.3a9.9,9.9 0 1,0 19.9,0a9.9,9.9 0 1,0 -19.9,0Z" fill="#fff" stroke="#e8434f" stroke-width="4.0" stroke-linejoin="round"/>
<path d="M492.6,492.0a9.9,9.9 0 1,0 19.9,0a9.9,9.9 0 1,0 -19.9,0Z" fill="#fff" stroke="#e8434f" stroke-width="4.0" stroke-linejoin="round"/>
<path d="M500.3,490.1a9.9,9.9 0 1,0 19.9,0a9.9,9.9 0 1,0 -19.9,0Z" fill="#fff" stroke="#e8434f" stroke-width="4.0" stroke-linejoin="round"/>
<path d="M507.2,486.2a9.9,9.9 0 1,0 19.9,0a9.9,9.9 0 1,0 -19.9,0Z" fill="#fff" stroke="#e8434f" stroke-width="4.0" stroke-linejoin="round"/>
<path d="M513.9,482.0a9.9,9.9 0 1,0 19.9,0a9.9,9.9 0 1,0 -19.9,0Z" fill="#fff" stroke="#e8434f" stroke-width="4.0" stroke-linejoin="round"/>
<path d="M520.5,477.4a9.9,9.9 0 1,0 19.9,0a9.9,9.9 0 1,0 -19.9,0Z" fill="#fff" stroke="#e8434f" stroke-width="4.0" stroke-linejoin="round"/>
<path d="M526.9,472.7a9.9,9.9 0 1,0 19.9,0a9.9,9.9 0 1,0 -19.9,0Z" fill="#fff" stroke="#e8434f" stroke-width="4.0" stroke-linejoin="round"/>
<path d="M533.3,468.0a9.9,9.9 0 1,0 19.9,0a9.9,9.9 0 1,0 -19.9,0Z" fill="#fff" stroke="#e8434f" stroke-width="4.0" stroke-linejoin="round"/>
<path d="M540.0,463.6a9.9,9.9 0 1,0 19.9,0a9.9,9.9 0 1,0 -19.9,0Z" fill="#fff" stroke="#e8434f" stroke-width="4.0" stroke-linejoin="round"/>
<path d="M546.5,459.1a9.9,9.9 0 1,0 19.9,0a9.9,9.9 0 1,0 -19.9,0Z" fill="#fff" stroke="#e8434f" stroke-width="4.0" stroke-linejoin="round"/>
<path d="M553.1,454.5a9.9,9.9 0 1,0 19.9,0a9.9,9.9 0 1,0 -19.9,0Z" fill="#fff" stroke="#e8434f" stroke-width="4.0" stroke-linejoin="round"/>
<path d="M693.1,387.3a9.9,9.9 0 1,0 19.9,0a9.9,9.9 0 1,0 -19.9,0Z" fill="#fff" stroke="#e8434f" stroke-width="4.0" stroke-linejoin="round"/>
<path d="M486.7,469.5L499.2,491.1L474.2,491.1Z" fill="#fff" stroke="#1f64d9" stroke-width="4.0" stroke-linejoin="round"/>
<path d="M491.3,469.9L503.8,491.6L478.8,491.6Z" fill="#fff" stroke="#1f64d9" stroke-width="4.0" stroke-linejoin="round"/>
<path d="M495.9,470.4L508.4,492.0L483.4,492.0Z" fill="#fff" stroke="#1f64d9" stroke-width="4.0" stroke-linejoin="round"/>
<path d="M500.5,470.8L513.0,492.4L488.0,492.4Z" fill="#fff" stroke="#1f64d9" stroke-width="4.0" stroke-linejoin="round"/>
<path d="M505.0,470.6L517.5,492.3L492.5,492.3Z" fill="#fff" stroke="#1f64d9" stroke-width="4.0" stroke-linejoin="round"/>
<path d="M509.4,469.3L521.9,491.0L497.0,491.0Z" fill="#fff" stroke="#1f64d9" stroke-width="4.0" stroke-linejoin="round"/>
<path d="M513.6,467.3L526.0,489.0L501.1,489.0Z" fill="#fff" stroke="#1f64d9" stroke-width="4.0" stroke-linejoin="round"/>
<path d="M517.5,464.9L530.0,486.6L505.0,486.6Z" fill="#fff" stroke="#1f64d9" stroke-width="4.0" stroke-linejoin="round"/>
<path d="M521.5,462.6L533.9,484.2L509.0,484.2Z" fill="#fff" stroke="#1f64d9" stroke-width="4.0" stroke-linejoin="round"/>
<path d="M525.3,459.9L537.7,481.6L512.8,481.6Z" fill="#fff" stroke="#1f64d9" stroke-width="4.0" stroke-linejoin="round"/>
<path d="M529.1,457.3L541.5,479.0L516.6,479.0Z" fill="#fff" stroke="#1f64d9" stroke-width="4.0" stroke-linejoin="round"/>
<path d="M532.8,454.7L545.3,476.3L520.3,476.3Z" fill="#fff" stroke="#1f64d9" stroke-width="4.0" stroke-linejoin="round"/>
<path d="M536.5,451.9L549.0,473.5L524.0,473.5Z" fill="#fff" stroke="#1f64d9" stroke-width="4.0" stroke-linejoin="round"/>
<path d="M540.2,449.1L552.7,470.7L527.7,470.7Z" fill="#fff" stroke="#1f64d9" stroke-width="4.0" stroke-linejoin="round"/>
<path d="M544.0,446.5L556.5,468.1L531.5,468.1Z" fill="#fff" stroke="#1f64d9" stroke-width="4.0" stroke-linejoin="round"/>
<path d="M547.8,443.9L560.3,465.6L535.3,465.6Z" fill="#fff" stroke="#1f64d9" stroke-width="4.0" stroke-linejoin="round"/>
<path d="M551.6,441.3L564.1,463.0L539.2,463.0Z" fill="#fff" stroke="#1f64d9" stroke-width="4.0" stroke-linejoin="round"/>
<path d="M555.4,438.7L567.9,460.4L542.9,460.4Z" fill="#fff" stroke="#1f64d9" stroke-width="4.0" stroke-linejoin="round"/>
<path d="M559.2,436.1L571.7,457.7L546.7,457.7Z" fill="#fff" stroke="#1f64d9" stroke-width="4.0" stroke-linejoin="round"/>
<path d="M563.0,433.5L575.5,455.1L550.5,455.1Z" fill="#fff" stroke="#1f64d9" stroke-width="4.0" stroke-linejoin="round"/>
<path d="M575.7,423.0L588.2,444.6L563.2,444.6Z" fill="#fff" stroke="#1f64d9" stroke-width="4.0" stroke-linejoin="round"/>
<path d="M593.2,412.2L605.6,433.8L580.7,433.8Z" fill="#fff" stroke="#1f64d9" stroke-width="4.0" stroke-linejoin="round"/>
<path d="M613.4,400.0L625.8,421.6L600.9,421.6Z" fill="#fff" stroke="#1f64d9" stroke-width="4.0" stroke-linejoin="round"/>
<path d="M635.6,387.1L648.1,408.7L623.1,408.7Z" fill="#fff" stroke="#1f64d9" stroke-width="4.0" stroke-linejoin="round"/>
<path d="M669.1,371.2L681.6,392.8L656.7,392.8Z" fill="#fff" stroke="#1f64d9" stroke-width="4.0" stroke-linejoin="round"/>
<path d="M474.2,479.7L499.2,479.7L486.7,501.4Z" fill="#fff" stroke="#2ca25f" stroke-width="4.0" stroke-linejoin="round"/>
<path d="M480.9,480.4L505.9,480.4L493.4,502.0Z" fill="#fff" stroke="#2ca25f" stroke-width="4.0" stroke-linejoin="round"/>
<path d="M487.6,481.0L512.6,481.0L500.1,502.6Z" fill="#fff" stroke="#2ca25f" stroke-width="4.0" stroke-linejoin="round"/>
<path d="M494.2,480.4L519.2,480.4L506.7,502.0Z" fill="#fff" stroke="#2ca25f" stroke-width="4.0" stroke-linejoin="round"/>
<path d="M500.5,477.9L525.4,477.9L513.0,499.6Z" fill="#fff" stroke="#2ca25f" stroke-width="4.0" stroke-linejoin="round"/>
<path d="M506.2,474.5L531.2,474.5L518.7,496.1Z" fill="#fff" stroke="#2ca25f" stroke-width="4.0" stroke-linejoin="round"/>
<path d="M511.9,470.8L536.9,470.8L524.4,492.4Z" fill="#fff" stroke="#2ca25f" stroke-width="4.0" stroke-linejoin="round"/>
<path d="M517.4,467.0L542.4,467.0L529.9,488.6Z" fill="#fff" stroke="#2ca25f" stroke-width="4.0" stroke-linejoin="round"/>
<path d="M522.9,463.0L547.9,463.0L535.4,484.6Z" fill="#fff" stroke="#2ca25f" stroke-width="4.0" stroke-linejoin="round"/>
<path d="M528.3,458.9L553.2,458.9L540.7,480.5Z" fill="#fff" stroke="#2ca25f" stroke-width="4.0" stroke-linejoin="round"/>
<path d="M533.8,455.1L558.8,455.1L546.3,476.8Z" fill="#fff" stroke="#2ca25f" stroke-width="4.0" stroke-linejoin="round"/>
<path d="M539.4,451.4L564.4,451.4L551.9,473.0Z" fill="#fff" stroke="#2ca25f" stroke-width="4.0" stroke-linejoin="round"/>
<path d="M545.0,447.6L570.0,447.6L557.5,469.2Z" fill="#fff" stroke="#2ca25f" stroke-width="4.0" stroke-linejoin="round"/>
<path d="M550.5,443.7L575.5,443.7L563.0,465.4Z" fill="#fff" stroke="#2ca25f" stroke-width="4.0" stroke-linejoin="round"/>
<path d="M571.8,431.4L596.7,431.4L584.3,453.1Z" fill="#fff" stroke="#2ca25f" stroke-width="4.0" stroke-linejoin="round"/>
<path d="M590.6,422.7L615.6,422.7L603.1,444.4Z" fill="#fff" stroke="#2ca25f" stroke-width="4.0" stroke-linejoin="round"/>
<path d="M614.6,412.0L639.5,412.0L627.0,433.6Z" fill="#fff" stroke="#2ca25f" stroke-width="4.0" stroke-linejoin="round"/>
<path d="M645.4,399.2L670.3,399.2L657.9,420.8Z" fill="#fff" stroke="#2ca25f" stroke-width="4.0" stroke-linejoin="round"/>
<path d="M690.9,382.0L715.9,382.0L703.4,403.7Z" fill="#fff" stroke="#2ca25f" stroke-width="4.0" stroke-linejoin="round"/>
<path d="M746.7,365.4L771.7,365.4L759.2,387.0Z" fill="#fff" stroke="#2ca25f" stroke-width="4.0" stroke-linejoin="round"/>
<path d="M486.7,473.9L499.2,486.4L486.7,499.0L474.2,486.4Z" fill="#fff" stroke="#b56ce0" stroke-width="4.0" stroke-linejoin="round"/>
<path d="M489.5,474.3L502.0,486.8L489.5,499.4L476.9,486.8Z" fill="#fff" stroke="#b56ce0" stroke-width="4.0" stroke-linejoin="round"/>
<path d="M492.2,474.7L504.7,487.2L492.2,499.8L479.7,487.2Z" fill="#fff" stroke="#b56ce0" stroke-width="4.0" stroke-linejoin="round"/>
<path d="M495.0,475.1L507.5,487.7L495.0,500.2L482.5,487.7Z" fill="#fff" stroke="#b56ce0" stroke-width="4.0" stroke-linejoin="round"/>
<path d="M497.7,475.5L510.2,488.0L497.7,500.5L485.2,488.0Z" fill="#fff" stroke="#b56ce0" stroke-width="4.0" stroke-linejoin="round"/>
<path d="M500.5,475.9L513.0,488.4L500.5,500.9L488.0,488.4Z" fill="#fff" stroke="#b56ce0" stroke-width="4.0" stroke-linejoin="round"/>
<path d="M503.3,476.2L515.8,488.8L503.3,501.3L490.7,488.8Z" fill="#fff" stroke="#b56ce0" stroke-width="4.0" stroke-linejoin="round"/>
<path d="M506.0,475.7L518.5,488.2L506.0,500.7L493.5,488.2Z" fill="#fff" stroke="#b56ce0" stroke-width="4.0" stroke-linejoin="round"/>
<path d="M508.7,475.0L521.2,487.5L508.7,500.0L496.2,487.5Z" fill="#fff" stroke="#b56ce0" stroke-width="4.0" stroke-linejoin="round"/>
<path d="M511.3,474.2L523.8,486.7L511.3,499.2L498.8,486.7Z" fill="#fff" stroke="#b56ce0" stroke-width="4.0" stroke-linejoin="round"/>
<path d="M513.8,472.9L526.3,485.4L513.8,497.9L501.3,485.4Z" fill="#fff" stroke="#b56ce0" stroke-width="4.0" stroke-linejoin="round"/>
<path d="M516.2,471.5L528.7,484.0L516.2,496.5L503.7,484.0Z" fill="#fff" stroke="#b56ce0" stroke-width="4.0" stroke-linejoin="round"/>
<path d="M518.6,470.1L531.1,482.7L518.6,495.2L506.1,482.7Z" fill="#fff" stroke="#b56ce0" stroke-width="4.0" stroke-linejoin="round"/>
<path d="M521.1,468.8L533.6,481.3L521.1,493.8L508.6,481.3Z" fill="#fff" stroke="#b56ce0" stroke-width="4.0" stroke-linejoin="round"/>
<path d="M523.4,467.3L535.9,479.8L523.4,492.3L510.9,479.8Z" fill="#fff" stroke="#b56ce0" stroke-width="4.0" stroke-linejoin="round"/>
<path d="M525.8,465.8L538.3,478.3L525.8,490.8L513.3,478.3Z" fill="#fff" stroke="#b56ce0" stroke-width="4.0" stroke-linejoin="round"/>
<path d="M528.1,464.3L540.6,476.8L528.1,489.3L515.6,476.8Z" fill="#fff" stroke="#b56ce0" stroke-width="4.0" stroke-linejoin="round"/>
<path d="M530.4,462.8L543.0,475.3L530.4,487.8L517.9,475.3Z" fill="#fff" stroke="#b56ce0" stroke-width="4.0" stroke-linejoin="round"/>
<path d="M532.8,461.2L545.3,473.8L532.8,486.3L520.3,473.8Z" fill="#fff" stroke="#b56ce0" stroke-width="4.0" stroke-linejoin="round"/>
<path d="M535.0,459.6L547.6,472.1L535.0,484.7L522.5,472.1Z" fill="#fff" stroke="#b56ce0" stroke-width="4.0" stroke-linejoin="round"/>
<path d="M537.3,458.0L549.8,470.5L537.3,483.0L524.8,470.5Z" fill="#fff" stroke="#b56ce0" stroke-width="4.0" stroke-linejoin="round"/>
<path d="M539.6,456.4L552.1,468.9L539.6,481.4L527.1,468.9Z" fill="#fff" stroke="#b56ce0" stroke-width="4.0" stroke-linejoin="round"/>
<path d="M541.9,454.8L554.4,467.3L541.9,479.8L529.4,467.3Z" fill="#fff" stroke="#b56ce0" stroke-width="4.0" stroke-linejoin="round"/>
<path d="M544.2,453.3L556.8,465.9L544.2,478.4L531.7,465.9Z" fill="#fff" stroke="#b56ce0" stroke-width="4.0" stroke-linejoin="round"/>
<path d="M546.6,451.9L559.1,464.4L546.6,476.9L534.1,464.4Z" fill="#fff" stroke="#b56ce0" stroke-width="4.0" stroke-linejoin="round"/>
<path d="M549.0,450.4L561.5,462.9L549.0,475.4L536.5,462.9Z" fill="#fff" stroke="#b56ce0" stroke-width="4.0" stroke-linejoin="round"/>
<path d="M551.3,448.9L563.8,461.4L551.3,473.9L538.8,461.4Z" fill="#fff" stroke="#b56ce0" stroke-width="4.0" stroke-linejoin="round"/>
<path d="M553.7,447.4L566.2,459.9L553.7,472.4L541.2,459.9Z" fill="#fff" stroke="#b56ce0" stroke-width="4.0" stroke-linejoin="round"/>
<path d="M556.0,445.9L568.5,458.4L556.0,470.9L543.5,458.4Z" fill="#fff" stroke="#b56ce0" stroke-width="4.0" stroke-linejoin="round"/>
<path d="M558.4,444.4L570.9,456.9L558.4,469.4L545.8,456.9Z" fill="#fff" stroke="#b56ce0" stroke-width="4.0" stroke-linejoin="round"/>
<path d="M560.7,442.9L573.2,455.4L560.7,467.9L548.2,455.4Z" fill="#fff" stroke="#b56ce0" stroke-width="4.0" stroke-linejoin="round"/>
<path d="M563.0,441.4L575.5,453.9L563.0,466.4L550.5,453.9Z" fill="#fff" stroke="#b56ce0" stroke-width="4.0" stroke-linejoin="round"/>
<path d="M535.3,470.2L547.8,482.7L535.3,495.2L522.8,482.7Z" fill="#fff" stroke="#b56ce0" stroke-width="4.0" stroke-linejoin="round"/>
<path d="M539.4,467.6L551.9,480.1L539.4,492.7L526.9,480.1Z" fill="#fff" stroke="#b56ce0" stroke-width="4.0" stroke-linejoin="round"/>
<path d="M543.5,464.0L556.0,476.6L543.5,489.1L531.0,476.6Z" fill="#fff" stroke="#b56ce0" stroke-width="4.0" stroke-linejoin="round"/>
<path d="M549.0,459.4L561.5,472.0L549.0,484.5L536.5,472.0Z" fill="#fff" stroke="#b56ce0" stroke-width="4.0" stroke-linejoin="round"/>
<path d="M556.2,453.8L568.7,466.3L556.2,478.8L543.7,466.3Z" fill="#fff" stroke="#b56ce0" stroke-width="4.0" stroke-linejoin="round"/>
<path d="M565.4,447.7L577.9,460.2L565.4,472.7L552.9,460.2Z" fill="#fff" stroke="#b56ce0" stroke-width="4.0" stroke-linejoin="round"/>
<path d="M576.4,440.5L588.9,453.0L576.4,465.5L563.9,453.0Z" fill="#fff" stroke="#b56ce0" stroke-width="4.0" stroke-linejoin="round"/>
<path d="M589.4,433.3L601.9,445.8L589.4,458.4L576.9,445.8Z" fill="#fff" stroke="#b56ce0" stroke-width="4.0" stroke-linejoin="round"/>
<path d="M604.1,425.6L616.6,438.2L604.1,450.7L591.6,438.2Z" fill="#fff" stroke="#b56ce0" stroke-width="4.0" stroke-linejoin="round"/>
<path d="M620.9,416.9L633.4,429.5L620.9,442.0L608.4,429.5Z" fill="#fff" stroke="#b56ce0" stroke-width="4.0" stroke-linejoin="round"/>
<path d="M642.4,406.2L655.0,418.7L642.4,431.2L629.9,418.7Z" fill="#fff" stroke="#b56ce0" stroke-width="4.0" stroke-linejoin="round"/>
<path d="M669.1,394.4L681.7,406.9L669.1,419.4L656.6,406.9Z" fill="#fff" stroke="#b56ce0" stroke-width="4.0" stroke-linejoin="round"/>
<path d="M486.7,480.7 C487.8,480.3 491.3,478.6 493.5,478.6 C495.8,478.6 498.4,479.6 500.4,480.7 C502.4,481.7 503.2,484.8 505.5,484.8 C507.8,484.8 511.3,482.6 514.1,480.7 C516.9,478.7 517.7,476.4 522.3,473.0 C526.9,469.6 535.1,464.4 541.5,460.2 C547.8,456.0 554.6,451.4 560.3,447.9 C566.0,444.4 569.7,442.9 575.7,439.2 C581.7,435.4 589.4,430.0 596.2,425.4 C603.1,420.8 611.2,415.3 616.8,411.5 C622.4,407.8 625.2,406.1 629.8,402.8 C634.3,399.6 637.8,397.0 644.2,392.1 C650.5,387.1 657.9,380.9 668.1,373.1 C678.4,365.4 690.9,355.3 705.8,345.5 C720.6,335.7 739.1,324.2 757.1,314.3 C775.1,304.3 804.2,290.4 813.6,285.6" fill="none" stroke="#4d4d4d" stroke-width="1.9" stroke-linecap="round" stroke-linejoin="round"/>
<path d="M507.2,486.8 C509.5,485.8 512.9,485.8 520.9,480.7 C528.9,475.5 543.8,463.4 555.2,456.1 C566.6,448.7 578.0,442.9 589.4,436.6 C600.8,430.4 612.2,424.2 623.6,418.7 C635.0,413.2 646.4,408.3 657.9,403.9 C669.3,399.4 682.4,395.3 692.1,392.1 C701.8,388.8 712.0,385.7 716.0,384.4" fill="none" stroke="#e8434f" stroke-width="1.9" stroke-linecap="round" stroke-linejoin="round"/>
<path d="M507.2,486.8 C509.5,485.5 512.9,485.1 520.9,479.1 C528.9,473.1 543.8,459.2 555.2,451.0 C566.6,442.7 578.0,436.5 589.4,429.5 C600.8,422.5 612.2,415.5 623.6,409.0 C635.0,402.5 647.9,395.7 657.9,390.5 C667.8,385.4 679.2,380.3 683.5,378.3" fill="none" stroke="#1f64d9" stroke-width="1.9" stroke-linecap="round" stroke-linejoin="round"/>
<path d="M507.2,486.8 C509.5,485.8 512.9,485.8 520.9,480.7 C528.9,475.5 543.8,463.3 555.2,456.1 C566.6,448.8 578.0,443.1 589.4,437.1 C600.8,431.2 612.2,425.4 623.6,420.2 C635.0,415.0 644.6,410.8 657.9,405.9 C671.1,401.0 689.1,395.5 703.4,391.1 C717.6,386.6 727.9,384.1 743.4,379.3 C758.9,374.4 787.6,364.8 796.5,361.9" fill="none" stroke="#2ca25f" stroke-width="1.9" stroke-linecap="round" stroke-linejoin="round"/>
<path d="M507.2,486.8 C509.5,485.9 512.9,486.4 520.9,481.7 C528.9,477.0 543.8,465.6 555.2,458.6 C566.6,451.6 578.0,445.4 589.4,439.7 C600.8,434.0 612.2,429.3 623.6,424.3 C635.0,419.4 646.8,414.4 657.9,410.0 C668.9,405.6 684.4,399.8 689.7,397.7" fill="none" stroke="#b56ce0" stroke-width="1.9" stroke-linecap="round" stroke-linejoin="round"/>
</g>
<path d="M829.7,230.3H486.7V486.8H829.7 M486.7,435.6h4 M486.7,384.4h4 M486.7,333.2h4 M486.7,282.0h4 M486.7,461.2h2.5 M486.7,410.0h2.5 M486.7,358.8h2.5 M486.7,307.6h2.5 M486.7,256.4h2.5 M589.4,486.8v-4 M692.1,486.8v-4 M794.8,486.8v-4 M538.0,486.8v-2.5 M640.7,486.8v-2.5 M743.4,486.8v-2.5" fill="none" stroke="#111" stroke-width="2.2"/>
<text x="481.3" y="494.1" font-size="21.5" text-anchor="end" font-family="Liberation Serif, serif">0</text>
<text x="481.3" y="442.9" font-size="21.5" text-anchor="end" font-family="Liberation Serif, serif">1</text>
<text x="481.3" y="391.7" font-size="21.5" text-anchor="end" font-family="Liberation Serif, serif">2</text>
<text x="481.3" y="340.5" font-size="21.5" text-anchor="end" font-family="Liberation Serif, serif">3</text>
<text x="481.3" y="289.3" font-size="21.5" text-anchor="end" font-family="Liberation Serif, serif">4</text>
<text x="481.3" y="238.1" font-size="21.5" text-anchor="end" font-family="Liberation Serif, serif">5</text>
<text x="485.9" y="510.4" font-size="21.5" text-anchor="middle" font-family="Liberation Serif, serif">0.0</text>
<text x="588.6" y="510.4" font-size="21.5" text-anchor="middle" font-family="Liberation Serif, serif">0.3</text>
<text x="691.3" y="510.4" font-size="21.5" text-anchor="middle" font-family="Liberation Serif, serif">0.6</text>
<text x="794.0" y="510.4" font-size="21.5" text-anchor="middle" font-family="Liberation Serif, serif">0.9</text>
<text x="563" y="569.6" font-size="39.5" font-family="Liberation Serif, serif"><tspan font-style="italic">Z</tspan><tspan font-style="italic">′</tspan> (kΩ cm<tspan font-size="25" dy="-15">2</tspan><tspan dy="15">)</tspan></text>
<text transform="translate(458.7,463.7) rotate(-90)" font-size="39.5" font-family="Liberation Serif, serif">−<tspan font-style="italic">Z</tspan><tspan font-style="italic">″</tspan> (kΩ cm<tspan font-size="25" dy="-15">2</tspan><tspan dy="15">)</tspan></text>
<text x="727.7" y="284.8" font-size="29" fill="#555555" font-family="Liberation Serif, serif">(a)</text>
<text x="765.2" y="351.3" font-size="29" fill="#e8434f" font-family="Liberation Serif, serif">(b)</text>
<text x="714.5" y="367.8" font-size="29" fill="#1f64d9" font-family="Liberation Serif, serif">(c)</text>
<text x="768.5" y="402" font-size="29" fill="#2ca25f" font-family="Liberation Serif, serif">(d)</text>
<text x="679.7" y="444.9" font-size="29" fill="#b56ce0" font-family="Liberation Serif, serif">(e)</text>
<text x="168.5" y="374.2" font-size="55" fill="#555555" font-family="Liberation Serif, serif">(a)</text>
<text x="250.8" y="439.5" font-size="55" fill="#1f64d9" font-family="Liberation Serif, serif">(c)</text>
<text x="247.6" y="500.5" font-size="55" fill="#2ca25f" font-family="Liberation Serif, serif">(d)</text>
<text x="233.9" y="559.4" font-size="55" fill="#e8434f" font-family="Liberation Serif, serif">(b)</text>
<text x="221.7" y="618.7" font-size="55" fill="#b56ce0" font-family="Liberation Serif, serif">(e)</text>
<text x="351.5" y="767" font-size="55" fill="#555555" font-family="Liberation Serif, serif">(a)</text>
<text x="442" y="883.9" font-size="55" fill="#2ca25f" font-family="Liberation Serif, serif">(d)</text>
<text x="413.2" y="1032.7" font-size="55" fill="#b56ce0" font-family="Liberation Serif, serif">(e)</text>
<text x="371.4" y="1081.5" font-size="55" fill="#e8434f" font-family="Liberation Serif, serif">(b)</text>
<text x="289.6" y="1134.9" font-size="55" fill="#1f64d9" font-family="Liberation Serif, serif">(c)</text>
<path d="M143.7,127.5H829.7V1155.5H143.7Z M143.7,642.0H829.7" fill="none" stroke="#000" stroke-width="4.5" stroke-linejoin="miter"/>
<path d="M143.7,584.32h4.6 M143.7,527.24h9.2 M143.7,470.16h4.6 M143.7,413.08h9.2 M143.7,356.00h4.6 M143.7,298.92h9.2 M143.7,241.84h4.6 M143.7,184.76h9.2 M143.7,1098.42h4.6 M143.7,1041.34h9.2 M143.7,984.26h4.6 M143.7,927.18h9.2 M143.7,870.10h4.6 M143.7,813.02h9.2 M143.7,755.94h4.6 M143.7,698.86h9.2 M220.22,642.0v-4.0 M296.34,642.0v-8.6 M372.46,642.0v-4.0 M448.58,642.0v-8.6 M524.70,642.0v-4.0 M600.82,642.0v-8.6 M676.94,642.0v-4.0 M753.06,642.0v-8.6 M220.22,1155.5v-4.0 M296.34,1155.5v-8.6 M372.46,1155.5v-4.0 M448.58,1155.5v-8.6 M524.70,1155.5v-4.0 M600.82,1155.5v-8.6 M676.94,1155.5v-4.0 M753.06,1155.5v-8.6" stroke="#000" stroke-width="3.8" fill="none"/>
<text x="133.3" y="656.40" font-size="50" text-anchor="end" font-family="Liberation Serif, serif">0</text>
<text x="133.3" y="542.24" font-size="50" text-anchor="end" font-family="Liberation Serif, serif">2</text>
<text x="133.3" y="428.08" font-size="50" text-anchor="end" font-family="Liberation Serif, serif">4</text>
<text x="133.3" y="313.92" font-size="50" text-anchor="end" font-family="Liberation Serif, serif">6</text>
<text x="133.3" y="199.76" font-size="50" text-anchor="end" font-family="Liberation Serif, serif">8</text>
<text x="133.3" y="1170.50" font-size="50" text-anchor="end" font-family="Liberation Serif, serif">0</text>
<text x="133.3" y="1056.34" font-size="50" text-anchor="end" font-family="Liberation Serif, serif">2</text>
<text x="133.3" y="942.18" font-size="50" text-anchor="end" font-family="Liberation Serif, serif">4</text>
<text x="133.3" y="828.02" font-size="50" text-anchor="end" font-family="Liberation Serif, serif">6</text>
<text x="133.3" y="713.86" font-size="50" text-anchor="end" font-family="Liberation Serif, serif">8</text>
<text x="148.40" y="1201.5" font-size="50" text-anchor="middle" font-family="Liberation Serif, serif">0</text>
<text x="300.64" y="1201.5" font-size="50" text-anchor="middle" font-family="Liberation Serif, serif">2</text>
<text x="452.88" y="1201.5" font-size="50" text-anchor="middle" font-family="Liberation Serif, serif">4</text>
<text x="605.12" y="1201.5" font-size="50" text-anchor="middle" font-family="Liberation Serif, serif">6</text>
<text x="757.36" y="1201.5" font-size="50" text-anchor="middle" font-family="Liberation Serif, serif">8</text>
<text x="150.6" y="184.6" font-size="59.5" font-family="Liberation Serif, serif">(A) Co</text>
<text x="150.6" y="700" font-size="59.5" font-family="Liberation Serif, serif">(B) Cu</text>
<text x="338" y="1264" font-size="62.5" font-family="Liberation Serif, serif"><tspan font-style="italic">Z</tspan><tspan font-style="italic">′</tspan> (kΩ cm<tspan font-size="44" dy="-26">2</tspan><tspan dy="26">)</tspan></text>
<text transform="translate(57,795) rotate(-90)" x="0" y="0" font-size="62.5" font-family="Liberation Serif, serif">–<tspan font-style="italic">Z</tspan><tspan font-style="italic">″</tspan> (kΩ cm<tspan font-size="44" dy="-26">2</tspan><tspan dy="26">)</tspan></text>
</svg></body></html>
